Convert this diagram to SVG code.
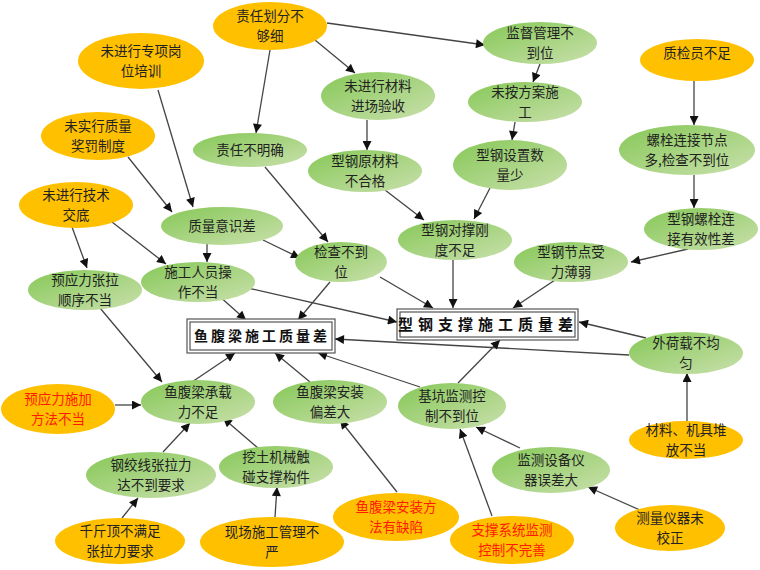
<svg xmlns="http://www.w3.org/2000/svg" width="760" height="570" viewBox="0 0 760 570">
<defs>
<linearGradient id="g" x1="0" y1="0" x2="1" y2="1">
<stop offset="0" stop-color="#86C857"/>
<stop offset="1" stop-color="#C9E0AC"/>
</linearGradient>
<marker id="a" viewBox="0 0 10 10" refX="10" refY="5" markerWidth="10" markerHeight="9" markerUnits="userSpaceOnUse" orient="auto">
<path d="M0,0 L10,5 L0,10 z" fill="#111"/>
</marker>
<style>
.o{fill:#FFC000;}
.gr{fill:url(#g);}
text{font-family:"Noto Sans CJK SC","Noto Sans",sans-serif;font-size:13.5px;fill:#222;text-anchor:middle;}
.r{fill:#FF1A00;}
.t{font-weight:bold;font-size:14px;letter-spacing:3px;fill:#111;}
.box{fill:#fff;stroke:#555;stroke-width:1.2;}
#edges line{stroke:#444;stroke-width:1.3;marker-end:url(#a);}
</style>
</defs>
<rect width="760" height="570" fill="#fff"/>
<g id="edges">
<line x1="270" y1="50" x2="256" y2="133"/>
<line x1="315" y1="40" x2="355" y2="73"/>
<line x1="327" y1="23" x2="485" y2="45"/>
<line x1="158" y1="90" x2="193" y2="207"/>
<line x1="128" y1="157" x2="172" y2="212"/>
<line x1="265" y1="167" x2="328" y2="242"/>
<line x1="367" y1="120" x2="367" y2="150"/>
<line x1="540" y1="64" x2="533" y2="82"/>
<line x1="515" y1="122" x2="512" y2="140"/>
<line x1="694" y1="81" x2="694" y2="125"/>
<line x1="694" y1="175" x2="694" y2="208"/>
<line x1="385" y1="190" x2="424" y2="220"/>
<line x1="490" y1="188" x2="474" y2="219"/>
<line x1="688" y1="249" x2="631" y2="262"/>
<line x1="72" y1="227" x2="87" y2="268"/>
<line x1="112" y1="222" x2="166" y2="264"/>
<line x1="207" y1="242" x2="207" y2="262"/>
<line x1="263" y1="240" x2="300" y2="258"/>
<line x1="218" y1="295" x2="246" y2="320"/>
<line x1="330" y1="282" x2="298" y2="320"/>
<line x1="248" y1="288" x2="397" y2="322"/>
<line x1="380" y1="277" x2="433" y2="308"/>
<line x1="453" y1="260" x2="453" y2="308"/>
<line x1="555" y1="280" x2="513" y2="308"/>
<line x1="646" y1="338" x2="579" y2="322"/>
<line x1="629" y1="355" x2="335" y2="339"/>
<line x1="100" y1="308" x2="162" y2="382"/>
<line x1="192" y1="382" x2="235" y2="353"/>
<line x1="310" y1="382" x2="275" y2="353"/>
<line x1="420" y1="387" x2="318" y2="353"/>
<line x1="458" y1="383" x2="500" y2="340"/>
<line x1="115" y1="405" x2="141" y2="405"/>
<line x1="163" y1="452" x2="190" y2="423"/>
<line x1="258" y1="448" x2="223" y2="418"/>
<line x1="122" y1="518" x2="138" y2="498"/>
<line x1="275" y1="517" x2="277" y2="487"/>
<line x1="397" y1="492" x2="340" y2="420"/>
<line x1="492" y1="516" x2="460" y2="429"/>
<line x1="520" y1="448" x2="476" y2="427"/>
<line x1="640" y1="510" x2="588" y2="487"/>
<line x1="687" y1="422" x2="687" y2="373"/>
</g>
<g id="n1"><ellipse class="o" cx="270" cy="26" rx="57" ry="24"/><text x="270" y="21">责任划分不<tspan x="270" dy="19.6">够细</tspan></text></g>
<g id="n2"><ellipse class="o" cx="141" cy="61" rx="63" ry="28"/><text x="141" y="56">未进行专项岗<tspan x="141" dy="19.6">位培训</tspan></text></g>
<g id="n3"><ellipse class="o" cx="98" cy="136" rx="57" ry="24"/><text x="98" y="131">未实行质量<tspan x="98" dy="19.6">奖罚制度</tspan></text></g>
<g id="n4"><ellipse class="gr" cx="250" cy="150" rx="57" ry="17"/><text x="250" y="155">责任不明确</text></g>
<g id="n5"><ellipse class="gr" cx="378" cy="96" rx="57" ry="24"/><text x="378" y="91">未进行材料<tspan x="378" dy="19.6">进场验收</tspan></text></g>
<g id="n6"><ellipse class="gr" cx="365" cy="171" rx="57" ry="21"/><text x="365" y="166">型钢原材料<tspan x="365" dy="19.6">不合格</tspan></text></g>
<g id="n7"><ellipse class="gr" cx="540" cy="43" rx="57" ry="21"/><text x="540" y="38">监督管理不<tspan x="540" dy="19.6">到位</tspan></text></g>
<g id="n8"><ellipse class="gr" cx="525" cy="102" rx="57" ry="20"/><text x="525" y="97">未按方案施<tspan x="525" dy="19.6">工</tspan></text></g>
<g id="n9"><ellipse class="gr" cx="510" cy="165" rx="57" ry="25"/><text x="510" y="160">型钢设置数<tspan x="510" dy="19.6">量少</tspan></text></g>
<g id="n10"><ellipse class="o" cx="697" cy="60" rx="57" ry="21"/><text x="697" y="58">质检员不足</text></g>
<g id="n11"><ellipse class="gr" cx="687" cy="150" rx="68" ry="25"/><text x="687" y="145">螺栓连接节点<tspan x="687" dy="19.6">多,检查不到位</tspan></text></g>
<g id="n12"><ellipse class="o" cx="76" cy="205" rx="57" ry="23"/><text x="76" y="200">未进行技术<tspan x="76" dy="19.6">交底</tspan></text></g>
<g id="n13"><ellipse class="gr" cx="222" cy="226" rx="61" ry="19"/><text x="222" y="231">质量意识差</text></g>
<g id="n14"><ellipse class="gr" cx="341" cy="262" rx="46" ry="20"/><text x="341" y="257">检查不到<tspan x="341" dy="19.6">位</tspan></text></g>
<g id="n15"><ellipse class="gr" cx="85" cy="290" rx="57" ry="20"/><text x="85" y="285">预应力张拉<tspan x="85" dy="19.6">顺序不当</tspan></text></g>
<g id="n16"><ellipse class="gr" cx="198" cy="282" rx="57" ry="20"/><text x="198" y="277">施工人员操<tspan x="198" dy="19.6">作不当</tspan></text></g>
<g id="n17"><rect class="box" x="187" y="319" width="148" height="34"/><rect class="box" x="190" y="322" width="142" height="28"/><text class="t" x="262" y="341">鱼腹梁施工质量差</text></g>
<g id="n18"><ellipse class="gr" cx="455" cy="240" rx="57" ry="20"/><text x="455" y="235">型钢对撑刚<tspan x="455" dy="19.6">度不足</tspan></text></g>
<g id="n19"><ellipse class="gr" cx="571" cy="262" rx="57" ry="20"/><text x="571" y="257">型钢节点受<tspan x="571" dy="19.6">力薄弱</tspan></text></g>
<g id="n20"><ellipse class="gr" cx="701" cy="229" rx="57" ry="21"/><text x="701" y="224">型钢螺栓连<tspan x="701" dy="19.6">接有效性差</tspan></text></g>
<g id="n21"><rect class="box" x="397" y="309" width="181" height="31"/><rect class="box" x="400" y="312" width="175" height="25"/><text class="t" x="488" y="330" style="font-size:15px;letter-spacing:5px">型钢支撑施工质量差</text></g>
<g id="n22"><ellipse class="gr" cx="686" cy="353" rx="57" ry="21"/><text x="686" y="348">外荷载不均<tspan x="686" dy="19.6">匀</tspan></text></g>
<g id="n23"><ellipse class="gr" cx="198" cy="402" rx="57" ry="22"/><text x="198" y="397">鱼腹梁承载<tspan x="198" dy="19.6">力不足</tspan></text></g>
<g id="n24"><ellipse class="o" cx="58" cy="409" rx="57" ry="25"/><text class="r" x="58" y="404">预应力施加<tspan x="58" dy="19.6">方法不当</tspan></text></g>
<g id="n25"><ellipse class="gr" cx="330" cy="402" rx="57" ry="22"/><text x="330" y="397">鱼腹梁安装<tspan x="330" dy="19.6">偏差大</tspan></text></g>
<g id="n26"><ellipse class="gr" cx="151" cy="475" rx="65" ry="23"/><text x="151" y="470">钢绞线张拉力<tspan x="151" dy="19.6">达不到要求</tspan></text></g>
<g id="n27"><ellipse class="gr" cx="276" cy="467" rx="57" ry="21"/><text x="276" y="462">挖土机械触<tspan x="276" dy="19.6">碰支撑构件</tspan></text></g>
<g id="n28"><ellipse class="o" cx="120" cy="541" rx="65" ry="23"/><text x="120" y="536">千斤顶不满足<tspan x="120" dy="19.6">张拉力要求</tspan></text></g>
<g id="n29"><ellipse class="o" cx="272" cy="542" rx="72" ry="25"/><text x="272" y="537">现场施工管理不<tspan x="272" dy="19.6">严</tspan></text></g>
<g id="n30"><ellipse class="o" cx="396" cy="517" rx="63" ry="24"/><text class="r" x="396" y="512">鱼腹梁安装方<tspan x="396" dy="19.6">法有缺陷</tspan></text></g>
<g id="n31"><ellipse class="gr" cx="452" cy="406" rx="54" ry="23"/><text x="452" y="401">基坑监测控<tspan x="452" dy="19.6">制不到位</tspan></text></g>
<g id="n32"><ellipse class="o" cx="512" cy="540" rx="62" ry="24"/><text class="r" x="512" y="535">支撑系统监测<tspan x="512" dy="19.6">控制不完善</tspan></text></g>
<g id="n33"><ellipse class="gr" cx="551" cy="470" rx="59" ry="23"/><text x="551" y="465">监测设备仪<tspan x="551" dy="19.6">器误差大</tspan></text></g>
<g id="n34"><ellipse class="o" cx="670" cy="528" rx="55" ry="23"/><text x="670" y="523">测量仪器未<tspan x="670" dy="19.6">校正</tspan></text></g>
<g id="n35"><ellipse class="o" cx="686" cy="440" rx="57" ry="19"/><text x="686" y="435">材料、机具堆<tspan x="686" dy="19.6">放不当</tspan></text></g>
</svg>
